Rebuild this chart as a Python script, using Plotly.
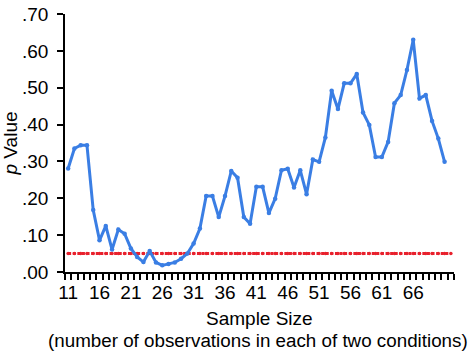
import plotly.graph_objects as go

# Data
sample_sizes = list(range(11, 72))
p_values = [0.281, 0.335, 0.344, 0.344, 0.168, 0.086, 0.125, 0.061, 0.115, 0.104,
            0.064, 0.041, 0.027, 0.057, 0.026, 0.018, 0.022, 0.026, 0.036, 0.050,
            0.077, 0.118, 0.206, 0.206, 0.149, 0.206, 0.274, 0.256, 0.149, 0.131,
            0.231, 0.231, 0.160, 0.199, 0.276, 0.280, 0.229, 0.276, 0.211, 0.305,
            0.299, 0.365, 0.492, 0.442, 0.512, 0.512, 0.537, 0.433, 0.399, 0.312,
            0.312, 0.353, 0.458, 0.480, 0.548, 0.630, 0.471, 0.480, 0.410, 0.362,
            0.299]
categories = list(range(11, 73))
threshold = 0.05
x_tick_vals = [11, 16, 21, 26, 31, 36, 41, 46, 51, 56, 61, 66]
y_tick_vals = [0.0, 0.1, 0.2, 0.3, 0.4, 0.5, 0.6, 0.7]
y_tick_text = [".00", ".10", ".20", ".30", ".40", ".50", ".60", ".70"]
x_title_lines = ["Sample Size", "(number of observations in each of two conditions)"]

FONT = "Liberation Sans, Arial, Helvetica, sans-serif"
BLUE = "#3a7ee4"
RED = "#e8202c"

xmin = categories[0] - 0.5
xmax = categories[-1] + 0.5
boundaries = [c - 0.5 for c in categories] + [xmax]

fig = go.Figure()
fig.add_trace(go.Scatter(
    x=categories, y=[threshold] * len(categories), mode="lines+markers",
    line=dict(color=RED, width=3, dash="3px,1.6px"),
    marker=dict(color=RED, size=3.5), showlegend=False, hoverinfo="skip"))
fig.add_trace(go.Scatter(
    x=sample_sizes, y=p_values, mode="lines+markers",
    line=dict(color=BLUE, width=3),
    marker=dict(color=BLUE, size=4.5), showlegend=False))
fig.add_trace(go.Scatter(x=[xmin, xmax], y=[0, 0], xaxis="x2", mode="markers",
                         marker=dict(opacity=0), showlegend=False, hoverinfo="skip"))

L, R, T, B = 65, 20, 14, 81
plot_h = 353 - T - B
plot_w = 474 - L - R
fig.add_annotation(text=x_title_lines[0], xref="paper", yref="paper",
                   x=0.5, y=-46 / plot_h, xanchor="center", yanchor="middle",
                   showarrow=False, font=dict(size=19))
fig.add_annotation(text=x_title_lines[1], xref="paper", yref="paper",
                   x=(258 - L) / plot_w, y=-68 / plot_h, xanchor="center", yanchor="middle",
                   showarrow=False, font=dict(size=18.8))

fig.update_layout(
    width=474, height=353,
    margin=dict(l=L, r=R, t=T, b=B),
    plot_bgcolor="white", paper_bgcolor="white",
    font=dict(family=FONT, color="black", size=19),
    xaxis=dict(range=[xmin, xmax], tickmode="array", tickvals=x_tick_vals,
               ticks="", showgrid=False, zeroline=False, showline=False,
               tickfont=dict(size=19), ticklabelstandoff=7, automargin=False),
    xaxis2=dict(range=[xmin, xmax], overlaying="x", anchor="y", side="bottom",
                tickmode="array", tickvals=boundaries, ticks="outside", ticklen=6,
                tickwidth=1.5, tickcolor="black", showticklabels=False,
                showgrid=False, zeroline=False, showline=True, linecolor="black",
                linewidth=1.5, automargin=False),
    yaxis=dict(range=[0, 0.70], tickmode="array", tickvals=y_tick_vals,
               ticktext=y_tick_text, ticks="outside", ticklen=6, tickwidth=1.5,
               tickcolor="black", showgrid=False, zeroline=False, showline=True,
               linecolor="black", linewidth=1.5, tickfont=dict(size=19),
               ticklabelstandoff=5, automargin=False,
               title=dict(text="<i>p</i> Value", font=dict(size=19), standoff=8)),
)

fig.write_html("out.html")
